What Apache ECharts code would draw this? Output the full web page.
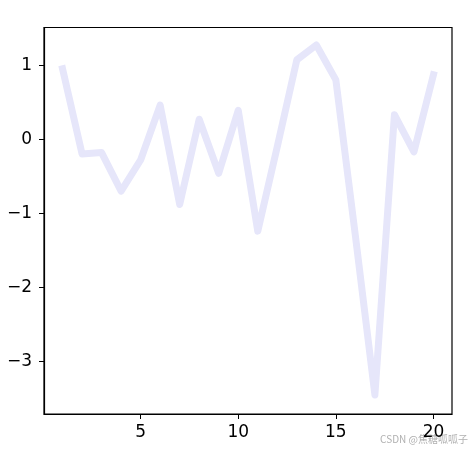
<!DOCTYPE html>
<html><head><meta charset="utf-8">
<script src="https://cdn.jsdelivr.net/npm/echarts@6/dist/echarts.min.js"></script>
<style>html,body{margin:0;padding:0;background:#fff}#c{width:474px;height:454px}</style>
</head><body><div id="c"></div>
<script>
const xValues = [1,2,3,4,5,6,7,8,9,10,11,12,13,14,15,16,17,18,19,20];
const yValues = [0.95,-0.2,-0.18,-0.7,-0.28,0.46,-0.88,0.27,-0.46,0.39,-1.24,-0.1,1.07,1.27,0.8,-1.3,-3.45,0.33,-0.17,0.87];
const xTicks = [5,10,15,20];
const yTicks = [-3,-2,-1,0,1];
const watermark = 'CSDN @焦糖呱呱子';

const fmt = v => (v < 0 ? '\u2212' + Math.abs(v) : String(v));
const chart = echarts.init(document.getElementById('c'), null, {renderer:'canvas'});
chart.setOption({
  animation:false,
  backgroundColor:'#fff',
  grid:{left:44, top:27.5, right:22, bottom:40, show:true, borderColor:'#000', borderWidth:1.2, containLabel:false},
  xAxis:{type:'value', min:0.05, max:20.95, splitLine:{show:false},
    axisLine:{show:true, onZero:false, lineStyle:{color:'#000', width:1.2}},
    axisTick:{show:true, customValues:xTicks, length:5, lineStyle:{color:'#000', width:1}},
    axisLabel:{customValues:xTicks, formatter:fmt, color:'#000', fontFamily:'DejaVu Sans', fontSize:17, margin:10}},
  yAxis:{type:'value', min:-3.707, max:1.507, splitLine:{show:false},
    axisLine:{show:true, onZero:false, lineStyle:{color:'#000', width:1.2}},
    axisTick:{show:true, customValues:yTicks, length:5, lineStyle:{color:'#000', width:1}},
    axisLabel:{customValues:yTicks, formatter:fmt, color:'#000', fontFamily:'DejaVu Sans', fontSize:17, margin:12}},
  series:[{type:'line', data:xValues.map((x,i)=>[x,yValues[i]]), symbol:'none',
    lineStyle:{color:'#E6E6FA', width:7, cap:'square', join:'round'}}],
  graphic:[{type:'text', right:6, top:434, style:{text:watermark, fill:'#b0b0b0', fontSize:10, fontFamily:'Noto Sans CJK SC'}}]
});
</script></body></html>
